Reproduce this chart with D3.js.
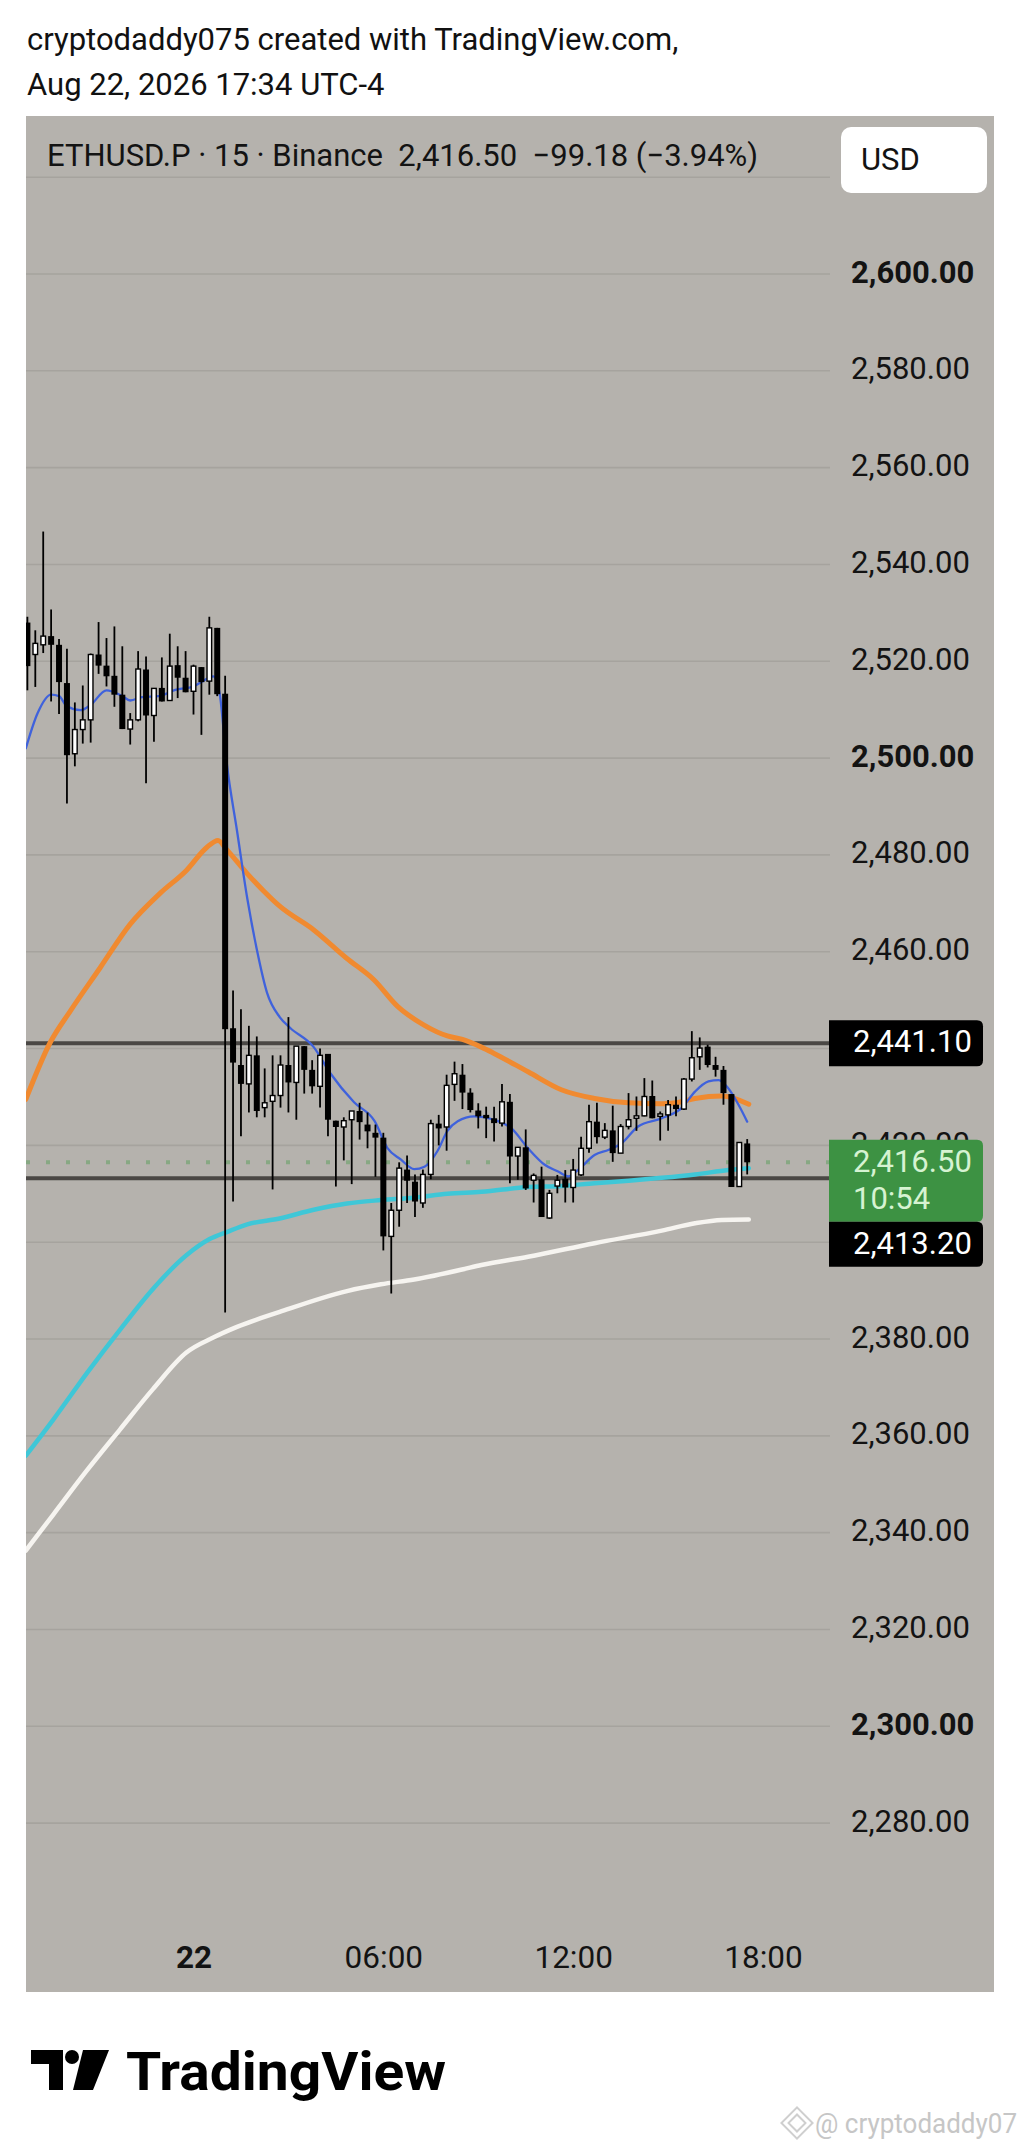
<!DOCTYPE html>
<html>
<head>
<meta charset="utf-8">
<script src="https://cdn.jsdelivr.net/npm/d3@7"></script>
<style>
  body { margin: 0; background: #fff; }
  svg { display: block; }
  text { font-family: Roboto, "Noto Sans", sans-serif; }
</style>
</head>
<body>
<svg id="chart" width="1021" height="2151"></svg>
<script>
// ---- data (15 min candles, first one Aug 21 18:45) ----
var firstBar = new Date(2026, 7, 21, 18, 45);
var midnight = new Date(2026, 7, 22, 0, 0);

var opens = [
  2528, 2521.4, 2523.4, 2525.2, 2523.4, 2515.5, 2500.9, 2505.9, 2507.9, 2521.4,
  2519.1, 2517, 2513.1, 2506, 2507.9, 2518.3, 2508.8, 2514.5, 2511.9, 2519.2,
  2516.6, 2513.8, 2518.8, 2515.9, 2526.9, 2513.3, 2444.2, 2436.6, 2432.7, 2438.6,
  2427.8, 2429.1, 2430.3, 2436.6, 2433, 2440.5, 2435.6, 2432.2, 2438.9, 2425.1,
  2423.8, 2425.3, 2427.1, 2424.3, 2422.6, 2421.6, 2401.2, 2406.6, 2415, 2412.5,
  2408.1, 2414, 2424.5, 2423.8, 2432.6, 2434.6, 2430.9, 2427.2, 2426.3, 2425.6,
  2424.6, 2429, 2417.8, 2419.6, 2412.8, 2413, 2405, 2411.6, 2413.1, 2411.3,
  2413.9, 2419.4, 2424.9, 2421.7, 2423.1, 2418.4, 2423.9, 2425.6, 2426.1, 2430.2,
  2426, 2426.3, 2428.4, 2427.5, 2433.7, 2438.3, 2440.4, 2436.6, 2435.6, 2430.6,
  2411.5, 2420.4
];
var highs = [
  2529.2, 2526.4, 2546.8, 2530.7, 2524.6, 2522.6, 2511.5, 2515, 2521.6, 2528.1,
  2524.8, 2527.2, 2523.1, 2509.3, 2522.1, 2521, 2514.4, 2520.8, 2525.7, 2523.1,
  2522.1, 2519.3, 2518.8, 2529.2, 2526.9, 2517, 2452, 2448.1, 2444.7, 2442.5,
  2435.9, 2438.6, 2438.6, 2446.5, 2440.5, 2440.5, 2437.6, 2440, 2438.9, 2425.1,
  2425.8, 2427.1, 2428.8, 2426.8, 2424.3, 2422.6, 2408.1, 2416.5, 2417.9, 2414,
  2415, 2425.3, 2426.3, 2434.6, 2437.3, 2436.8, 2431.8, 2428.7, 2428, 2428,
  2432.7, 2430.6, 2419.6, 2423.3, 2414.2, 2415.6, 2410.8, 2413.9, 2414.9, 2417.2,
  2421.8, 2428.4, 2428.8, 2424.6, 2428.2, 2424.4, 2430.8, 2430.1, 2433.9, 2433.4,
  2427, 2429.4, 2430.1, 2433.9, 2443.6, 2442.3, 2440.8, 2438.3, 2436.4, 2430.6,
  2420.6, 2421.3
];
var lows = [
  2514, 2514.7, 2521.7, 2511.7, 2509.1, 2490.6, 2498.3, 2503, 2503.2, 2517.4,
  2514.8, 2510.6, 2506, 2502.8, 2507.6, 2494.8, 2503.4, 2511.7, 2511.9, 2512.4,
  2513.6, 2509, 2504.8, 2513.1, 2512.8, 2385.5, 2408.4, 2421.9, 2426.8, 2425.8,
  2425.8, 2410.9, 2427.8, 2426.8, 2425.3, 2430.7, 2430.7, 2427.8, 2421.9, 2411.5,
  2416.9, 2412, 2421.2, 2419.4, 2413.5, 2398.3, 2389.4, 2403.2, 2408.1, 2405.2,
  2407.1, 2413, 2420, 2418.9, 2429.2, 2427.5, 2426.8, 2423.5, 2421.5, 2420.8,
  2423.9, 2412.2, 2412.9, 2410.8, 2408.2, 2405.2, 2404.8, 2410.1, 2408.2, 2408.2,
  2413.7, 2418.5, 2420.4, 2421.3, 2416.6, 2418.4, 2423.3, 2423, 2426, 2425.6,
  2421, 2423, 2426, 2427.3, 2433.2, 2435.6, 2436.1, 2434.2, 2428.4, 2411.4,
  2411.5, 2414
];
var closes = [
  2519, 2523.7, 2525.2, 2523.4, 2515.7, 2500.6, 2505.9, 2507.9, 2521.4, 2519.1,
  2516.9, 2513.1, 2506, 2507.9, 2518.4, 2508.8, 2514.4, 2511.7, 2519, 2516.6,
  2513.6, 2519, 2515.7, 2526.9, 2513.2, 2444, 2437.1, 2432.7, 2438.6, 2427.1,
  2428.8, 2430.3, 2436.6, 2433, 2440.5, 2435.6, 2432.2, 2438.6, 2425.3, 2423.8,
  2425.1, 2427.1, 2424.8, 2422.9, 2421.6, 2401.2, 2406.6, 2415.3, 2412.7, 2408.4,
  2414, 2424.5, 2423.5, 2432.4, 2434.8, 2430.9, 2427.3, 2426, 2425.6, 2424.6,
  2429, 2417.7, 2419.6, 2411.1, 2413.8, 2405.2, 2410.1, 2412.8, 2411.3, 2414.9,
  2419.4, 2424.9, 2421.7, 2423.1, 2418.4, 2423.9, 2425.3, 2426.1, 2430.1, 2425.6,
  2426.5, 2428.4, 2427.5, 2433.7, 2438.1, 2440.1, 2436.6, 2435.6, 2430.8, 2411.4,
  2420.6, 2416.5
];

// moving averages: [bars from midnight, price]
var maBlue = [
  [-21.2, 2502], [-19.7, 2509.3], [-18, 2513.1], [-17, 2512.8], [-16, 2510.7], [-14.3, 2509.9],
  [-13, 2511], [-11, 2514], [-9, 2512.8], [-8, 2511.9], [-6.5, 2512.6], [-4.4, 2512.8],
  [-2.3, 2514.1], [0, 2514.8], [1.2, 2515.9], [2.5, 2516.9], [3.3, 2513.4], [4.2, 2499],
  [5.5, 2485], [6.8, 2471], [8, 2460.5], [9.3, 2451.5], [10.9, 2446.5], [12.2, 2444.3],
  [15.2, 2440.3], [17.3, 2434.9], [20.3, 2428.9], [22.9, 2425], [24.5, 2419.5], [26.2, 2417.1],
  [27.9, 2415.1], [29.2, 2415.6], [30.9, 2419], [32.1, 2423], [33.4, 2425], [35.5, 2426],
  [38, 2425.3], [40.2, 2423.5], [42.3, 2419.4], [44.4, 2416], [46.1, 2414.6], [47.4, 2413.6],
  [48.6, 2414.9], [50.7, 2418], [52.5, 2419.1], [54.1, 2420.4], [56.2, 2423.9], [59.2, 2425.6],
  [61.7, 2427.7], [63.4, 2431.1], [65.1, 2433.2], [66.4, 2433.5], [67.6, 2431.8], [68.9, 2428.4],
  [70, 2424.9]
];
var maOrange = [
  [-21.2, 2429.5], [-18.1, 2441.3], [-15.6, 2447.7], [-11.8, 2456.7], [-8, 2465.7], [-4.2, 2472.1],
  [-0.9, 2476.8], [1.7, 2481.6], [3.1, 2483], [4.2, 2481.1], [6.7, 2476.3], [8.9, 2472.5],
  [10.9, 2469.4], [15.2, 2464.5], [19.4, 2458.6], [22.8, 2454.2], [25.8, 2448.7], [29.2, 2444.8],
  [32.1, 2442.6], [34, 2441.9], [36.4, 2440.3], [38, 2439], [42.3, 2435.2], [46.5, 2431.5],
  [50.7, 2429.7], [55, 2428.8], [59.2, 2428.6], [61, 2428.8], [63.4, 2429.7], [66.8, 2430.2],
  [70.2, 2428.5]
];
var maCyan = [
  [-21.2, 2355.9], [-17.7, 2363.4], [-13.5, 2372.9], [-9.3, 2381.9], [-5.1, 2390.4], [-0.9, 2397.3],
  [2.1, 2400.7], [4.2, 2402.1], [6.8, 2403.7], [10.9, 2404.9], [15.2, 2406.7], [19.4, 2408],
  [23.7, 2408.7], [27.9, 2409.2], [32.1, 2410], [36.4, 2410.4], [42.3, 2411.4], [46.5, 2411.6],
  [50.7, 2412.2], [55, 2412.7], [59.2, 2413.3], [63.4, 2414], [67.6, 2414.9], [70.2, 2415.3]
];
var maWhite = [
  [-21.2, 2336.3], [-17.7, 2343.8], [-13.5, 2352.8], [-9.3, 2361.3], [-5.1, 2369.7], [-0.9, 2377.2],
  [2.5, 2380.3], [5.5, 2382.5], [10.9, 2385.6], [19.4, 2389.9], [23.7, 2391.3], [27.9, 2392.3],
  [33.8, 2394.3], [36.4, 2395.3], [42.3, 2397], [50.7, 2399.8], [59.2, 2402.4], [63.4, 2403.9],
  [66.8, 2404.6], [70.2, 2404.7]
];

var gridPrices = [2620, 2600, 2580, 2560, 2540, 2520, 2500, 2480, 2460, 2440, 2420, 2400, 2380, 2360, 2340, 2320, 2300, 2280];
var boldPrices = [2600, 2500, 2400, 2300];
var levelLines = [2441.10, 2413.20];
var lastPrice = 2416.50;
var countdown = "10:54";
var timeTicks = [new Date(2026, 7, 22, 0, 0), new Date(2026, 7, 22, 6, 0), new Date(2026, 7, 22, 12, 0), new Date(2026, 7, 22, 18, 0)];
var legendText = "ETHUSD.P \u00b7 15 \u00b7 Binance  2,416.50  \u221299.18 (\u22123.94%)";
var headerLines = ["cryptodaddy075 created with TradingView.com,", "Aug 22, 2026 17:34 UTC-4"];

// ---- layout ----
var W = 1021, H = 2151;
var panel = {x: 26, y: 116, w: 968, h: 1876};
var plotRight = 830;
var bg = "#b5b2ad";

var svg = d3.select("#chart");
svg.append("rect").attr("width", W).attr("height", H).attr("fill", "#fff");

var y = d3.scaleLinear().domain([2600, 2413.2]).range([274, 1178.3]);
var x = d3.scaleTime().domain([midnight, new Date(2026, 7, 22, 18, 0)]).range([193.5, 193.5 + 72 * 7.91]);
function barTime(k) { return new Date(midnight.getTime() + k * 900000); }

// header text
svg.selectAll(".hdr").data(headerLines).enter().append("text")
  .attr("class", "hdr")
  .attr("x", 27).attr("y", function(d, i) { return 50 + i * 45; })
  .attr("font-size", 31).attr("fill", "#111")
  .text(function(d) { return d; });

// panel
svg.append("rect").attr("x", panel.x).attr("y", panel.y).attr("width", panel.w).attr("height", panel.h).attr("fill", bg);

var defs = svg.append("defs");
defs.append("clipPath").attr("id", "plotclip").append("rect")
  .attr("x", panel.x).attr("y", panel.y).attr("width", plotRight - panel.x).attr("height", panel.h);

// grid
svg.append("g").selectAll("line").data(gridPrices).enter().append("line")
  .attr("x1", panel.x).attr("x2", plotRight)
  .attr("y1", function(d) { return y(d); }).attr("y2", function(d) { return y(d); })
  .attr("stroke", "#a6a39e").attr("stroke-width", 1.6);

// price axis
var yAxis = d3.axisRight(y).tickValues(gridPrices.filter(function(d) { return d <= 2600; }))
  .tickFormat(d3.format(",.2f")).tickSize(0).tickPadding(0);
var ya = svg.append("g").attr("transform", "translate(851,0)").call(yAxis);
ya.select(".domain").remove();
ya.selectAll("text")
  .attr("font-family", "Roboto, sans-serif").attr("font-size", 31).attr("fill", "#131313")
  .attr("dy", "0.26em")
  .attr("font-weight", function(d) { return boldPrices.indexOf(d) >= 0 ? 700 : 400; });

// time axis
var xAxis = d3.axisBottom(x).tickValues(timeTicks).tickSize(0).tickPadding(0)
  .tickFormat(function(d) { return d.getHours() === 0 ? d3.timeFormat("%-d")(d) : d3.timeFormat("%H:%M")(d); });
var xa = svg.append("g").attr("transform", "translate(0,1943)").call(xAxis);
xa.select(".domain").remove();
xa.selectAll("text")
  .attr("font-family", "Roboto, sans-serif").attr("font-size", 31.5).attr("fill", "#131313")
  .attr("dy", "0.78em")
  .attr("font-weight", function(d) { return d.getHours() === 0 ? 700 : 400; });

var plot = svg.append("g").attr("clip-path", "url(#plotclip)");

// level lines + last price dotted
plot.selectAll(".lvl").data(levelLines).enter().append("line")
  .attr("class", "lvl")
  .attr("x1", panel.x).attr("x2", 829)
  .attr("y1", function(d) { return y(d); }).attr("y2", function(d) { return y(d); })
  .attr("stroke", "#4a4744").attr("stroke-width", 4);
plot.append("line")
  .attr("x1", panel.x).attr("x2", 829)
  .attr("y1", y(lastPrice)).attr("y2", y(lastPrice))
  .attr("stroke", "#87a883").attr("stroke-width", 4).attr("stroke-dasharray", "4 16");

// moving averages
var maLine = d3.line()
  .x(function(d) { return x(barTime(d[0])); })
  .y(function(d) { return y(d[1]); })
  .curve(d3.curveMonotoneX);
var maSpecs = [
  {data: maWhite, color: "#f6f4f0", w: 4.5},
  {data: maCyan, color: "#3fc7d7", w: 4.5},
  {data: maOrange, color: "#f08a30", w: 5},
  {data: maBlue, color: "#3f62dc", w: 2.3}
];
plot.selectAll(".ma").data(maSpecs).enter().append("path")
  .attr("class", "ma")
  .attr("d", function(d) { return maLine(d.data); })
  .attr("fill", "none")
  .attr("stroke", function(d) { return d.color; })
  .attr("stroke-width", function(d) { return d.w; })
  .attr("stroke-linejoin", "round").attr("stroke-linecap", "round");

// candles
var candles = opens.map(function(o, k) {
  return {t: new Date(firstBar.getTime() + k * 900000), o: o, h: highs[k], l: lows[k], c: closes[k]};
});
var cg = plot.selectAll(".candle").data(candles).enter().append("g").attr("class", "candle");
cg.append("line")
  .attr("x1", function(d) { return x(d.t); }).attr("x2", function(d) { return x(d.t); })
  .attr("y1", function(d) { return y(d.h); }).attr("y2", function(d) { return y(d.l); })
  .attr("stroke", "#000").attr("stroke-width", 1.8);
cg.append("rect")
  .attr("x", function(d) { return d.c >= d.o ? x(d.t) - 2.3 : x(d.t) - 3; })
  .attr("width", function(d) { return d.c >= d.o ? 4.6 : 6; })
  .attr("y", function(d) { return y(Math.max(d.o, d.c)); })
  .attr("height", function(d) { return Math.max(1.6, Math.abs(y(d.o) - y(d.c))); })
  .attr("fill", function(d) { return d.c >= d.o ? "#fff" : "#000"; })
  .attr("stroke", function(d) { return d.c >= d.o ? "#000" : "none"; })
  .attr("stroke-width", 1.4);

// price labels on the scale
function rightRound(x0, y0, w, h, r) {
  return "M" + x0 + "," + y0 + "H" + (x0 + w - r) + "Q" + (x0 + w) + "," + y0 + " " + (x0 + w) + "," + (y0 + r) +
    "V" + (y0 + h - r) + "Q" + (x0 + w) + "," + (y0 + h) + " " + (x0 + w - r) + "," + (y0 + h) + "H" + x0 + "Z";
}
var fmt = d3.format(",.2f");
var lastTop = y(lastPrice) - 22.5;
var boxes = [
  {top: y(levelLines[0]) - 23, h: 46, fill: "#000", color: "#fff", lines: [fmt(levelLines[0])]},
  {top: lastTop, h: 82, fill: "#3d9243", color: "#d6f3d2", lines: [fmt(lastPrice), countdown]},
  {top: lastTop + 82, h: 45, fill: "#000", color: "#fff", lines: [fmt(levelLines[1])]}
];
var bx = svg.selectAll(".box").data(boxes).enter().append("g").attr("class", "box");
bx.append("path").attr("d", function(d) { return rightRound(829, d.top, 154, d.h, 6); })
  .attr("fill", function(d) { return d.fill; });
bx.each(function(d) {
  var g = d3.select(this);
  d.lines.forEach(function(t, j) {
    g.append("text").attr("x", 853).attr("y", d.top + 32 + j * 37)
      .attr("font-size", 31).attr("fill", d.color).text(t);
  });
});

// legend + currency button
svg.append("text").attr("x", 47).attr("y", 166).attr("font-size", 31).attr("fill", "#131313")
  .attr("xml:space", "preserve").style("white-space", "pre").text(legendText);
svg.append("rect").attr("x", 841).attr("y", 127).attr("width", 146).attr("height", 66).attr("rx", 10).attr("fill", "#fff");
svg.append("text").attr("x", 861).attr("y", 170).attr("font-size", 31).attr("fill", "#131313").text("USD");

// footer logo
var logo = svg.append("g").attr("transform", "translate(31,2050)");
logo.append("path").attr("d", "M0,0H32V40H18V14H0Z").attr("fill", "#000");
logo.append("circle").attr("cx", 41).attr("cy", 7).attr("r", 7).attr("fill", "#000");
logo.append("path").attr("d", "M52,0H78L62,40H42Z").attr("fill", "#000");
svg.append("text").attr("x", 126).attr("y", 2090).attr("font-family", "Inter, Roboto, sans-serif")
  .attr("font-size", 54).attr("font-weight", 700).attr("fill", "#000")
  .attr("textLength", 320).attr("lengthAdjust", "spacingAndGlyphs").text("TradingView");

// watermark
var wm = svg.append("g").attr("transform", "translate(797,2123)").attr("fill", "none").attr("stroke", "#cfcfcf").attr("stroke-width", 2);
wm.append("rect").attr("x", -6).attr("y", -6).attr("width", 12).attr("height", 12).attr("transform", "rotate(45)");
wm.append("rect").attr("x", -11).attr("y", -11).attr("width", 22).attr("height", 22).attr("transform", "rotate(45)");
svg.append("text").attr("x", 815).attr("y", 2133).attr("font-size", 27).attr("fill", "#c6c6c6")
  .attr("textLength", 202).attr("lengthAdjust", "spacingAndGlyphs").text("@ cryptodaddy07");
</script>
</body>
</html>
